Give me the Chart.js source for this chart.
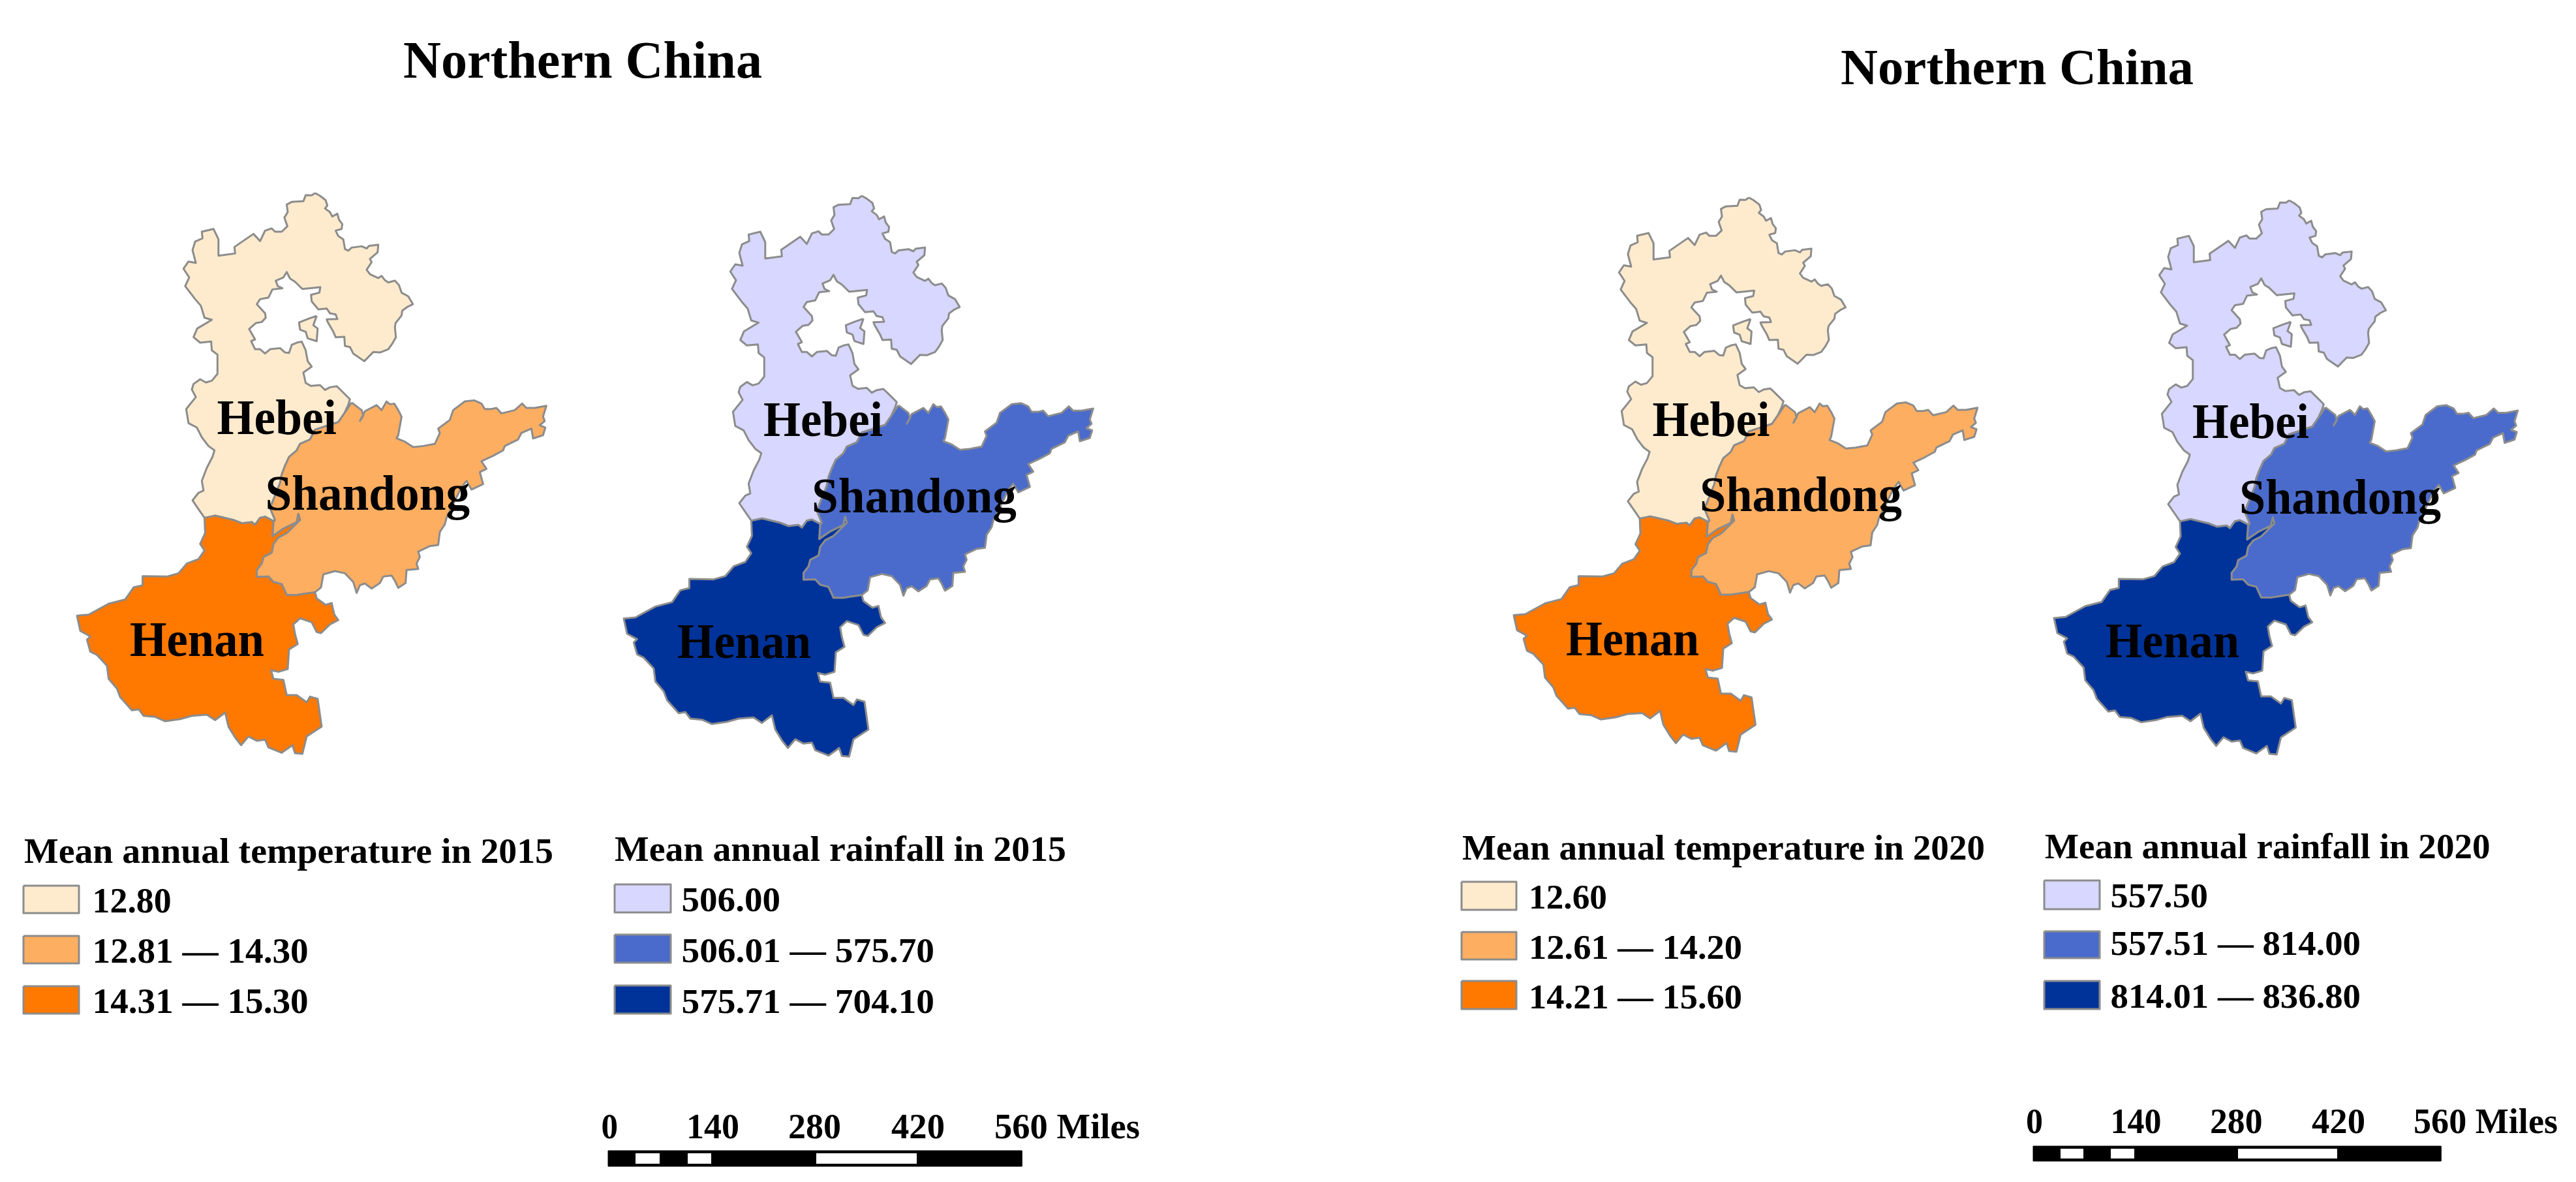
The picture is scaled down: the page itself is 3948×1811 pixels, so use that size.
<!DOCTYPE html>
<html><head><meta charset="utf-8">
<script src="https://cdn.jsdelivr.net/npm/chart.js@4"></script>
<style>html,body{margin:0;padding:0;background:#fff}canvas{display:block}</style>
</head><body><canvas id="c" width="3948" height="1811"></canvas>
<script>
// Province outlines (map units)
const hebeiOutline=[[790,137],[805,150],[822,170],[827,195],[820,208],[835,225],[842,245],[857,232],[862,260],[872,280],[870,302],[852,310],[860,335],[875,350],[880,395],[890,402],[900,388],[930,382],[945,392],[952,380],[980,375],[978,410],[955,440],[960,455],[945,490],[955,510],[980,528],[990,518],[1000,538],[1010,548],[1030,540],[1042,560],[1050,595],[1070,612],[1084,648],[1068,660],[1052,678],[1050,700],[1032,735],[1030,755],[1033,800],[1022,830],[1010,855],[985,870],[965,868],[938,910],[905,875],[895,845],[880,840],[878,798],[852,800],[845,775],[828,730],[825,718],[857,716],[852,695],[835,690],[825,668],[800,672],[780,635],[778,605],[803,595],[806,570],[752,578],[730,545],[715,530],[705,500],[695,525],[672,540],[678,565],[692,575],[662,580],[650,618],[625,625],[615,648],[640,690],[642,710],[630,730],[612,735],[592,762],[610,810],[598,818],[610,855],[625,855],[640,875],[655,855],[685,850],[700,870],[712,872],[720,835],[735,825],[750,820],[762,860],[768,910],[780,935],[755,962],[762,1010],[778,1024],[805,1020],[820,1042],[835,1030],[855,1025],[872,1050],[895,1085],[890,1110],[878,1150],[860,1190],[830,1205],[790,1225],[775,1270],[745,1290],[735,1320],[712,1350],[700,1390],[690,1430],[685,1470],[655,1585],[670,1640],[665,1645],[640,1625],[625,1630],[610,1662],[600,1650],[570,1655],[545,1640],[490,1620],[465,1630],[458,1630],[440,1590],[422,1550],[440,1515],[455,1505],[450,1460],[465,1400],[482,1350],[488,1320],[470,1300],[450,1260],[435,1215],[410,1195],[403,1130],[432,1075],[420,1040],[425,1015],[445,993],[462,1008],[480,1000],[497,968],[497,880],[480,860],[478,820],[445,825],[425,800],[436,760],[480,720],[458,710],[447,655],[430,625],[400,565],[412,525],[395,485],[410,452],[432,458],[422,400],[430,360],[452,345],[450,315],[485,302],[500,350],[500,425],[550,415],[548,385],[605,325],[625,358],[640,310],[660,300],[670,315],[690,315],[707,290],[698,250],[708,225],[705,190],[720,178],[755,175],[762,147],[780,148]];
const hebeiEnclave=[[795,702],[770,715],[742,732],[745,765],[762,775],[768,805],[795,818],[798,760],[785,745]];
const shandongOutline=[[900,1100],[930,1135],[935,1160],[925,1185],[940,1140],[975,1112],[990,1135],[1005,1095],[1015,1108],[1028,1105],[1040,1135],[1050,1165],[1040,1250],[1035,1265],[1060,1280],[1085,1305],[1115,1300],[1150,1290],[1165,1240],[1160,1220],[1195,1180],[1205,1135],[1240,1095],[1268,1090],[1290,1105],[1300,1130],[1320,1130],[1335,1125],[1350,1150],[1390,1135],[1412,1105],[1425,1125],[1450,1125],[1485,1115],[1475,1165],[1480,1185],[1465,1205],[1482,1215],[1475,1250],[1445,1265],[1440,1220],[1410,1240],[1400,1270],[1360,1300],[1355,1320],[1325,1345],[1290,1370],[1305,1405],[1285,1420],[1295,1475],[1260,1500],[1245,1460],[1230,1490],[1185,1630],[1180,1660],[1165,1695],[1160,1755],[1135,1760],[1100,1785],[1105,1810],[1095,1840],[1100,1865],[1065,1870],[1062,1930],[1040,1952],[1030,1920],[1020,1895],[995,1900],[985,1930],[960,1955],[940,1932],[925,1940],[915,1975],[905,1925],[880,1885],[850,1875],[815,1890],[808,1950],[790,1972],[755,1980],[735,1985],[705,1985],[690,1935],[665,1925],[650,1900],[615,1902],[615,1870],[630,1840],[635,1810],[660,1790],[665,1750],[680,1720],[705,1700],[725,1670],[745,1640],[740,1612],[735,1650],[695,1680],[662,1715],[665,1650],[670,1640],[655,1585],[685,1470],[690,1430],[700,1390],[712,1350],[735,1320],[745,1290],[775,1270],[790,1225],[830,1205],[860,1190],[878,1150]];
const henanOutline=[[458,1630],[490,1620],[545,1640],[570,1655],[600,1650],[610,1662],[625,1630],[640,1625],[665,1645],[662,1715],[695,1680],[735,1650],[740,1612],[745,1640],[725,1670],[705,1700],[680,1720],[665,1750],[660,1790],[635,1810],[630,1840],[615,1870],[615,1902],[650,1900],[665,1925],[690,1935],[705,1985],[735,1985],[755,1980],[790,1972],[795,2000],[822,2030],[840,2022],[848,2075],[860,2100],[835,2120],[808,2160],[795,2155],[780,2110],[745,2092],[725,2120],[730,2165],[738,2210],[712,2235],[708,2325],[680,2338],[658,2330],[665,2370],[695,2375],[705,2445],[735,2445],[765,2478],[775,2452],[798,2462],[810,2590],[765,2635],[752,2715],[730,2712],[722,2675],[690,2710],[650,2685],[640,2650],[615,2655],[590,2635],[568,2675],[550,2640],[530,2590],[520,2525],[490,2560],[465,2535],[420,2540],[385,2555],[340,2565],[310,2545],[275,2540],[260,2510],[240,2515],[205,2455],[195,2415],[170,2370],[165,2310],[135,2260],[115,2245],[105,2190],[115,2175],[85,2150],[75,2080],[110,2075],[170,2025],[220,2005],[245,1950],[272,1940],[272,1898],[345,1900],[380,1885],[405,1840],[440,1820],[458,1780],[445,1750],[460,1700]];

// Class colours
const tempColors=['#FEEBCD','#FDAE61','#FF7800'];
const rainColors=['#D7D7FF','#4A6BCC','#003399'];
const outlineColor='#8C8C8C';

// Titles and province names
const chartTitle='Northern China';
const provinceNames=['Hebei','Shandong','Henan'];

// Legend texts
const legendTemp2015Title='Mean annual temperature in 2015';
const legendTemp2015=['12.80','12.81 — 14.30','14.31 — 15.30'];
const legendRain2015Title='Mean annual rainfall in 2015';
const legendRain2015=['506.00','506.01 — 575.70','575.71 — 704.10'];
const legendTemp2020Title='Mean annual temperature in 2020';
const legendTemp2020=['12.60','12.61 — 14.20','14.21 — 15.60'];
const legendRain2020Title='Mean annual rainfall in 2020';
const legendRain2020=['557.50','557.51 — 814.00','814.01 — 836.80'];
const scaleTicks=['0','140','280','420','560 Miles'];

// Map placement on the page
const maps=[
 {x:118,y:295.7,k:1,colors:tempColors},
 {x:956,y:300,k:1,colors:rainColors},
 {x:2320,y:302.7,k:.988,colors:tempColors},
 {x:3148,y:307,k:.988,colors:rainColors}];
const place=(m,p)=>({x:m.x+((p[0]-75)/1.96)*m.k,y:m.y+((p[1]-137)/3)*m.k});
const closed=a=>a.concat([a[0]]);
const poly=(pts,fill,order,bc,bw)=>({type:'scatter',data:pts,showLine:true,fill:'shape',tension:0,pointRadius:0,
  borderColor:bc===undefined?outlineColor:bc,borderWidth:bw===undefined?3:bw,backgroundColor:fill,order:order,clip:false,borderJoinStyle:'round'});
const rectPts=(x0,x1,y0,y1)=>[{x:x0,y:y0},{x:x1,y:y0},{x:x1,y:y1},{x:x0,y:y1},{x:x0,y:y0}];

const datasets=[];
maps.forEach(m=>{
  const mk=a=>closed(a).map(p=>place(m,p));
  datasets.push(poly(mk(hebeiOutline),m.colors[0],30));
  datasets.push(poly(mk(hebeiEnclave),m.colors[0],30));
  datasets.push(poly(mk(shandongOutline),m.colors[1],20));
  datasets.push(poly(mk(henanOutline),m.colors[2],10));
});

// Legend blocks: swatch columns, text columns
const legends=[
 {title:legendTemp2015Title,tx:[37,848],tb:1322,ts:55,items:legendTemp2015,colors:tempColors,sx:[36,121],sy:[[1357,1399],[1434,1476],[1511,1553]],ix:141.6,iw:[121,331,331],ib:[1398,1475,1552],is:54},
 {title:legendRain2015Title,tx:[942,1634],tb:1319,ts:54,items:legendRain2015,colors:rainColors,sx:[942,1028],sy:[[1355,1398],[1432,1475],[1510,1553]],ix:1044.5,iw:[151.5,387.5,387.5],ib:[1396,1474,1552],is:53},
 {title:legendTemp2020Title,tx:[2241,3042],tb:1316.5,ts:54,items:legendTemp2020,colors:tempColors,sx:[2240,2324],sy:[[1351,1394],[1428,1470],[1503,1546]],ix:2343,iw:[120,327,327],ib:[1392,1469,1545],is:53},
 {title:legendRain2020Title,tx:[3134,3816.5],tb:1314.6,ts:55,items:legendRain2020,colors:rainColors,sx:[3133,3218],sy:[[1349,1393],[1427,1468],[1503,1546]],ix:3234.6,iw:[149.4,383.4,383.4],ib:[1390,1463,1544],is:53}];
legends.forEach(l=>l.sy.forEach((s,i)=>datasets.push(poly(rectPts(l.sx[0],l.sx[1],s[0],s[1]),l.colors[i],5))));

// Scale bars
const bars=[
 {x:[932,1566],y:[1763,1787],w:[[974,1011],[1054,1090],[1251,1405]],wy:[1767,1783]},
 {x:[3116,3741],y:[1756,1779],w:[[3158,3193],[3235,3271],[3430,3582]],wy:[1760,1775]}];
bars.forEach(b=>{
  datasets.push(poly(rectPts(b.x[0],b.x[1],b.y[0],b.y[1]),'#000',4,'#000',1));
  b.w.forEach(w=>datasets.push(poly(rectPts(w[0],w[1],b.wy[0],b.wy[1]),'#fff',3,'#fff',0)));
});

// Texts: string, left x, right x, baseline, font size
const texts=[
 [chartTitle,618,1168,119,80],[chartTitle,2821,3362,129,79],
 [provinceNames[0],332.5,516,665,76],[provinceNames[1],406.5,720,781,76],[provinceNames[2],199,405,1005,76],
 [provinceNames[0],1170,1353,668,76],[provinceNames[1],1244,1558,785,76],[provinceNames[2],1038,1243,1008,76],
 [provinceNames[0],2532.5,2712.6,668,76],[provinceNames[1],2605,2915,782.6,76],[provinceNames[2],2400,2604,1003.6,76],
 [provinceNames[0],3360,3539,671,76],[provinceNames[1],3432,3741,786.6,76],[provinceNames[2],3227,3432,1006.5,76]];
legends.forEach(l=>{
  texts.push([l.title,l.tx[0],l.tx[1],l.tb,l.ts]);
  l.items.forEach((t,i)=>texts.push([t,l.ix,l.ix+l.iw[i],l.ib[i],l.is]));
});
[[921.5,947],[1052,1133],[1208,1289],[1366,1448],[1524,1747]].forEach((r,i)=>texts.push([scaleTicks[i],r[0],r[1],1744,55]));
[[3105,3131],[3234.6,3312.6],[3387,3467.6],[3543,3625],[3699,3920]].forEach((r,i)=>texts.push([scaleTicks[i],r[0],r[1],1736,55]));

const textPlugin={id:'mapText',afterDatasetsDraw(ch){
  const c=ch.ctx,xs=ch.scales.x,ys=ch.scales.y;
  c.save();c.fillStyle='#000';c.textBaseline='alphabetic';c.textAlign='left';
  texts.forEach(([s,x0,x1,b,f])=>{
    c.font='bold '+f+'px "Liberation Serif"';
    const w=c.measureText(s).width;
    const px0=xs.getPixelForValue(x0),px1=xs.getPixelForValue(x1);
    c.save();c.translate(px0,ys.getPixelForValue(b));c.scale((px1-px0)/w,1);c.fillText(s,0,0);c.restore();
  });
  c.restore();
}};

new Chart(document.getElementById('c').getContext('2d'),{
  type:'scatter',data:{datasets},plugins:[textPlugin],
  options:{responsive:false,devicePixelRatio:1,animation:false,layout:{padding:0},
    plugins:{legend:{display:false},tooltip:{enabled:false},title:{display:false}},
    elements:{line:{tension:0}},
    scales:{x:{type:'linear',min:0,max:3948,display:false},y:{type:'linear',min:0,max:1811,reverse:true,display:false}}}
});
</script></body></html>
